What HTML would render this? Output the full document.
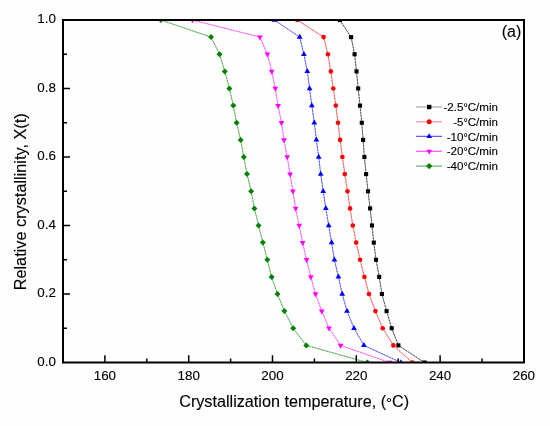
<!DOCTYPE html>
<html><head><meta charset="utf-8"><style>
html,body{margin:0;padding:0;background:#fff;}
svg{display:block;font-family:"Liberation Sans",Arial,sans-serif;}
text{stroke:#000;stroke-width:0.12px;}
</style></head><body>
<svg width="550" height="426" viewBox="0 0 550 426">
<rect width="550" height="426" fill="#fefefe"/>
<clipPath id="c"><rect x="63" y="20" width="461" height="342.5"/></clipPath>
<g clip-path="url(#c)">
<polyline points="160.9,20.0 211.0,37.1 219.5,54.2 224.8,71.4 229.4,88.5 233.3,105.6 236.6,122.8 240.7,139.9 243.8,157.0 247.0,174.1 251.1,191.2 254.4,208.4 258.5,225.5 262.9,242.6 267.3,259.8 271.6,276.9 277.5,294.0 284.4,311.1 293.2,328.2 306.3,345.4 367.4,362.5" fill="none" stroke="#008000" stroke-width="0.8" stroke-opacity="0.45"/><polyline points="160.9,20.0 211.0,37.1 219.5,54.2 224.8,71.4 229.4,88.5 233.3,105.6 236.6,122.8 240.7,139.9 243.8,157.0 247.0,174.1 251.1,191.2 254.4,208.4 258.5,225.5 262.9,242.6 267.3,259.8 271.6,276.9 277.5,294.0 284.4,311.1 293.2,328.2 306.3,345.4 367.4,362.5" fill="none" stroke="#008000" stroke-width="0.9" stroke-opacity="0.6" stroke-dasharray="1.8 1.2"/>
<polyline points="192.4,20.0 259.9,37.1 267.4,54.2 271.7,71.4 275.3,88.5 278.1,105.6 281.5,122.8 284.0,139.9 287.2,157.0 290.1,174.1 292.9,191.2 295.6,208.4 299.2,225.5 302.6,242.6 306.6,259.8 310.8,276.9 315.5,294.0 321.8,311.1 329.0,328.2 340.6,345.4 389.6,362.5" fill="none" stroke="#ff00ff" stroke-width="0.8" stroke-opacity="0.45"/><polyline points="192.4,20.0 259.9,37.1 267.4,54.2 271.7,71.4 275.3,88.5 278.1,105.6 281.5,122.8 284.0,139.9 287.2,157.0 290.1,174.1 292.9,191.2 295.6,208.4 299.2,225.5 302.6,242.6 306.6,259.8 310.8,276.9 315.5,294.0 321.8,311.1 329.0,328.2 340.6,345.4 389.6,362.5" fill="none" stroke="#ff00ff" stroke-width="0.9" stroke-opacity="0.6" stroke-dasharray="1.8 1.2"/>
<polyline points="274.4,20.0 299.7,37.1 303.9,54.2 307.3,71.4 309.6,88.5 311.8,105.6 314.3,122.8 316.4,139.9 318.7,157.0 320.7,174.1 323.2,191.2 325.8,208.4 328.7,225.5 331.6,242.6 334.4,259.8 338.4,276.9 342.2,294.0 347.0,311.1 354.0,328.2 363.9,345.4 400.9,362.5" fill="none" stroke="#0000ff" stroke-width="0.8" stroke-opacity="0.45"/><polyline points="274.4,20.0 299.7,37.1 303.9,54.2 307.3,71.4 309.6,88.5 311.8,105.6 314.3,122.8 316.4,139.9 318.7,157.0 320.7,174.1 323.2,191.2 325.8,208.4 328.7,225.5 331.6,242.6 334.4,259.8 338.4,276.9 342.2,294.0 347.0,311.1 354.0,328.2 363.9,345.4 400.9,362.5" fill="none" stroke="#0000ff" stroke-width="0.9" stroke-opacity="0.6" stroke-dasharray="1.8 1.2"/>
<polyline points="297.3,20.0 323.6,37.1 327.9,54.2 330.8,71.4 333.3,88.5 335.8,105.6 338.0,122.8 340.1,139.9 342.4,157.0 344.8,174.1 347.5,191.2 350.1,208.4 352.8,225.5 356.2,242.6 360.1,259.8 364.4,276.9 369.0,294.0 375.4,311.1 382.7,328.2 393.4,345.4 412.3,362.5" fill="none" stroke="#ff0000" stroke-width="0.8" stroke-opacity="0.45"/><polyline points="297.3,20.0 323.6,37.1 327.9,54.2 330.8,71.4 333.3,88.5 335.8,105.6 338.0,122.8 340.1,139.9 342.4,157.0 344.8,174.1 347.5,191.2 350.1,208.4 352.8,225.5 356.2,242.6 360.1,259.8 364.4,276.9 369.0,294.0 375.4,311.1 382.7,328.2 393.4,345.4 412.3,362.5" fill="none" stroke="#ff0000" stroke-width="0.9" stroke-opacity="0.6" stroke-dasharray="1.8 1.2"/>
<polyline points="339.8,20.0 351.1,37.1 354.6,54.2 356.5,71.4 358.2,88.5 360.0,105.6 361.8,122.8 363.1,139.9 364.4,157.0 366.1,174.1 368.0,191.2 370.1,208.4 372.0,225.5 373.8,242.6 376.0,259.8 379.2,276.9 381.9,294.0 386.6,311.1 391.7,328.2 398.4,345.4 424.5,362.5" fill="none" stroke="#000000" stroke-width="0.8" stroke-opacity="0.45"/><polyline points="339.8,20.0 351.1,37.1 354.6,54.2 356.5,71.4 358.2,88.5 360.0,105.6 361.8,122.8 363.1,139.9 364.4,157.0 366.1,174.1 368.0,191.2 370.1,208.4 372.0,225.5 373.8,242.6 376.0,259.8 379.2,276.9 381.9,294.0 386.6,311.1 391.7,328.2 398.4,345.4 424.5,362.5" fill="none" stroke="#000000" stroke-width="0.9" stroke-opacity="0.6" stroke-dasharray="1.8 1.2"/>
<polygon points="160.90,17.00 163.90,20.00 160.90,23.00 157.90,20.00" fill="#008000"/>
<polygon points="211.00,34.12 214.00,37.12 211.00,40.12 208.00,37.12" fill="#008000"/>
<polygon points="219.50,51.25 222.50,54.25 219.50,57.25 216.50,54.25" fill="#008000"/>
<polygon points="224.80,68.38 227.80,71.38 224.80,74.38 221.80,71.38" fill="#008000"/>
<polygon points="229.40,85.50 232.40,88.50 229.40,91.50 226.40,88.50" fill="#008000"/>
<polygon points="233.30,102.62 236.30,105.62 233.30,108.62 230.30,105.62" fill="#008000"/>
<polygon points="236.60,119.75 239.60,122.75 236.60,125.75 233.60,122.75" fill="#008000"/>
<polygon points="240.70,136.88 243.70,139.88 240.70,142.88 237.70,139.88" fill="#008000"/>
<polygon points="243.80,154.00 246.80,157.00 243.80,160.00 240.80,157.00" fill="#008000"/>
<polygon points="247.00,171.12 250.00,174.12 247.00,177.12 244.00,174.12" fill="#008000"/>
<polygon points="251.10,188.25 254.10,191.25 251.10,194.25 248.10,191.25" fill="#008000"/>
<polygon points="254.40,205.38 257.40,208.38 254.40,211.38 251.40,208.38" fill="#008000"/>
<polygon points="258.50,222.50 261.50,225.50 258.50,228.50 255.50,225.50" fill="#008000"/>
<polygon points="262.90,239.62 265.90,242.62 262.90,245.62 259.90,242.62" fill="#008000"/>
<polygon points="267.30,256.75 270.30,259.75 267.30,262.75 264.30,259.75" fill="#008000"/>
<polygon points="271.60,273.88 274.60,276.88 271.60,279.88 268.60,276.88" fill="#008000"/>
<polygon points="277.50,291.00 280.50,294.00 277.50,297.00 274.50,294.00" fill="#008000"/>
<polygon points="284.40,308.12 287.40,311.12 284.40,314.12 281.40,311.12" fill="#008000"/>
<polygon points="293.20,325.25 296.20,328.25 293.20,331.25 290.20,328.25" fill="#008000"/>
<polygon points="306.30,342.38 309.30,345.38 306.30,348.38 303.30,345.38" fill="#008000"/>
<polygon points="367.40,359.50 370.40,362.50 367.40,365.50 364.40,362.50" fill="#008000"/>
<polygon points="192.40,23.29 189.50,18.36 195.30,18.36" fill="#ff00ff"/>
<polygon points="259.90,40.41 257.00,35.48 262.80,35.48" fill="#ff00ff"/>
<polygon points="267.40,57.54 264.50,52.61 270.30,52.61" fill="#ff00ff"/>
<polygon points="271.70,74.66 268.80,69.73 274.60,69.73" fill="#ff00ff"/>
<polygon points="275.30,91.79 272.40,86.86 278.20,86.86" fill="#ff00ff"/>
<polygon points="278.10,108.91 275.20,103.98 281.00,103.98" fill="#ff00ff"/>
<polygon points="281.50,126.04 278.60,121.11 284.40,121.11" fill="#ff00ff"/>
<polygon points="284.00,143.16 281.10,138.23 286.90,138.23" fill="#ff00ff"/>
<polygon points="287.20,160.29 284.30,155.36 290.10,155.36" fill="#ff00ff"/>
<polygon points="290.10,177.41 287.20,172.48 293.00,172.48" fill="#ff00ff"/>
<polygon points="292.90,194.54 290.00,189.61 295.80,189.61" fill="#ff00ff"/>
<polygon points="295.60,211.66 292.70,206.73 298.50,206.73" fill="#ff00ff"/>
<polygon points="299.20,228.79 296.30,223.86 302.10,223.86" fill="#ff00ff"/>
<polygon points="302.60,245.91 299.70,240.98 305.50,240.98" fill="#ff00ff"/>
<polygon points="306.60,263.04 303.70,258.11 309.50,258.11" fill="#ff00ff"/>
<polygon points="310.80,280.16 307.90,275.23 313.70,275.23" fill="#ff00ff"/>
<polygon points="315.50,297.29 312.60,292.36 318.40,292.36" fill="#ff00ff"/>
<polygon points="321.80,314.41 318.90,309.48 324.70,309.48" fill="#ff00ff"/>
<polygon points="329.00,331.54 326.10,326.61 331.90,326.61" fill="#ff00ff"/>
<polygon points="340.60,348.66 337.70,343.73 343.50,343.73" fill="#ff00ff"/>
<polygon points="389.60,365.79 386.70,360.86 392.50,360.86" fill="#ff00ff"/>
<polygon points="274.40,16.71 271.50,21.64 277.30,21.64" fill="#0000ff"/>
<polygon points="299.70,33.84 296.80,38.77 302.60,38.77" fill="#0000ff"/>
<polygon points="303.90,50.96 301.00,55.89 306.80,55.89" fill="#0000ff"/>
<polygon points="307.30,68.09 304.40,73.02 310.20,73.02" fill="#0000ff"/>
<polygon points="309.60,85.21 306.70,90.14 312.50,90.14" fill="#0000ff"/>
<polygon points="311.80,102.34 308.90,107.27 314.70,107.27" fill="#0000ff"/>
<polygon points="314.30,119.46 311.40,124.39 317.20,124.39" fill="#0000ff"/>
<polygon points="316.40,136.59 313.50,141.52 319.30,141.52" fill="#0000ff"/>
<polygon points="318.70,153.71 315.80,158.64 321.60,158.64" fill="#0000ff"/>
<polygon points="320.70,170.84 317.80,175.77 323.60,175.77" fill="#0000ff"/>
<polygon points="323.20,187.96 320.30,192.89 326.10,192.89" fill="#0000ff"/>
<polygon points="325.80,205.09 322.90,210.02 328.70,210.02" fill="#0000ff"/>
<polygon points="328.70,222.21 325.80,227.14 331.60,227.14" fill="#0000ff"/>
<polygon points="331.60,239.34 328.70,244.27 334.50,244.27" fill="#0000ff"/>
<polygon points="334.40,256.46 331.50,261.39 337.30,261.39" fill="#0000ff"/>
<polygon points="338.40,273.59 335.50,278.52 341.30,278.52" fill="#0000ff"/>
<polygon points="342.20,290.71 339.30,295.64 345.10,295.64" fill="#0000ff"/>
<polygon points="347.00,307.84 344.10,312.77 349.90,312.77" fill="#0000ff"/>
<polygon points="354.00,324.96 351.10,329.89 356.90,329.89" fill="#0000ff"/>
<polygon points="363.90,342.09 361.00,347.02 366.80,347.02" fill="#0000ff"/>
<polygon points="400.90,359.21 398.00,364.14 403.80,364.14" fill="#0000ff"/>
<circle cx="297.30" cy="20.00" r="2.3" fill="#ff0000"/>
<circle cx="323.60" cy="37.12" r="2.3" fill="#ff0000"/>
<circle cx="327.90" cy="54.25" r="2.3" fill="#ff0000"/>
<circle cx="330.80" cy="71.38" r="2.3" fill="#ff0000"/>
<circle cx="333.30" cy="88.50" r="2.3" fill="#ff0000"/>
<circle cx="335.80" cy="105.62" r="2.3" fill="#ff0000"/>
<circle cx="338.00" cy="122.75" r="2.3" fill="#ff0000"/>
<circle cx="340.10" cy="139.88" r="2.3" fill="#ff0000"/>
<circle cx="342.40" cy="157.00" r="2.3" fill="#ff0000"/>
<circle cx="344.80" cy="174.12" r="2.3" fill="#ff0000"/>
<circle cx="347.50" cy="191.25" r="2.3" fill="#ff0000"/>
<circle cx="350.10" cy="208.38" r="2.3" fill="#ff0000"/>
<circle cx="352.80" cy="225.50" r="2.3" fill="#ff0000"/>
<circle cx="356.20" cy="242.62" r="2.3" fill="#ff0000"/>
<circle cx="360.10" cy="259.75" r="2.3" fill="#ff0000"/>
<circle cx="364.40" cy="276.88" r="2.3" fill="#ff0000"/>
<circle cx="369.00" cy="294.00" r="2.3" fill="#ff0000"/>
<circle cx="375.40" cy="311.12" r="2.3" fill="#ff0000"/>
<circle cx="382.70" cy="328.25" r="2.3" fill="#ff0000"/>
<circle cx="393.40" cy="345.38" r="2.3" fill="#ff0000"/>
<circle cx="412.30" cy="362.50" r="2.3" fill="#ff0000"/>
<rect x="337.75" y="17.95" width="4.1" height="4.1" fill="#000000"/>
<rect x="349.05" y="35.08" width="4.1" height="4.1" fill="#000000"/>
<rect x="352.55" y="52.20" width="4.1" height="4.1" fill="#000000"/>
<rect x="354.45" y="69.33" width="4.1" height="4.1" fill="#000000"/>
<rect x="356.15" y="86.45" width="4.1" height="4.1" fill="#000000"/>
<rect x="357.95" y="103.58" width="4.1" height="4.1" fill="#000000"/>
<rect x="359.75" y="120.70" width="4.1" height="4.1" fill="#000000"/>
<rect x="361.05" y="137.83" width="4.1" height="4.1" fill="#000000"/>
<rect x="362.35" y="154.95" width="4.1" height="4.1" fill="#000000"/>
<rect x="364.05" y="172.07" width="4.1" height="4.1" fill="#000000"/>
<rect x="365.95" y="189.20" width="4.1" height="4.1" fill="#000000"/>
<rect x="368.05" y="206.33" width="4.1" height="4.1" fill="#000000"/>
<rect x="369.95" y="223.45" width="4.1" height="4.1" fill="#000000"/>
<rect x="371.75" y="240.57" width="4.1" height="4.1" fill="#000000"/>
<rect x="373.95" y="257.70" width="4.1" height="4.1" fill="#000000"/>
<rect x="377.15" y="274.82" width="4.1" height="4.1" fill="#000000"/>
<rect x="379.85" y="291.95" width="4.1" height="4.1" fill="#000000"/>
<rect x="384.55" y="309.07" width="4.1" height="4.1" fill="#000000"/>
<rect x="389.65" y="326.20" width="4.1" height="4.1" fill="#000000"/>
<rect x="396.35" y="343.32" width="4.1" height="4.1" fill="#000000"/>
<rect x="422.45" y="360.45" width="4.1" height="4.1" fill="#000000"/>
</g>
<rect x="63" y="20" width="461" height="342.5" fill="none" stroke="#000" stroke-width="2"/>
<path d="M104.90,362.5V355.3M146.80,362.5V358.5M188.70,362.5V355.3M230.60,362.5V358.5M272.50,362.5V355.3M314.40,362.5V358.5M356.30,362.5V355.3M398.20,362.5V358.5M440.10,362.5V355.3M482.00,362.5V358.5M63,328.25H67.0M63,294.00H70.0M63,259.75H67.0M63,225.50H70.0M63,191.25H67.0M63,157.00H70.0M63,122.75H67.0M63,88.50H70.0M63,54.25H67.0" stroke="#000" stroke-width="1.5" fill="none"/>
<g font-size="13.4" fill="#000"><text x="104.9" y="380.4" text-anchor="middle">160</text><text x="188.7" y="380.4" text-anchor="middle">180</text><text x="272.5" y="380.4" text-anchor="middle">200</text><text x="356.3" y="380.4" text-anchor="middle">220</text><text x="440.1" y="380.4" text-anchor="middle">240</text><text x="523.9" y="380.4" text-anchor="middle">260</text><text x="55.9" y="365.8" text-anchor="end">0.0</text><text x="55.9" y="297.3" text-anchor="end">0.2</text><text x="55.9" y="228.8" text-anchor="end">0.4</text><text x="55.9" y="160.3" text-anchor="end">0.6</text><text x="55.9" y="91.8" text-anchor="end">0.8</text><text x="55.9" y="23.3" text-anchor="end">1.0</text></g>
<text x="294.2" y="407" text-anchor="middle" font-size="16.2" fill="#000">Crystallization temperature, (<tspan dy="1.2" font-size="15">°</tspan><tspan dy="-1.2">C)</tspan></text>
<text transform="translate(25.5,201.8) rotate(-90)" text-anchor="middle" font-size="16.3" fill="#000">Relative crystallinity, X(t)</text>
<text x="521.3" y="36.9" text-anchor="end" font-size="16" fill="#000">(a)</text>
<line x1="416" y1="107.0" x2="442" y2="107.0" stroke="#000000" stroke-width="1" stroke-opacity="0.4"/>
<rect x="427.00" y="104.80" width="4.4" height="4.4" fill="#000000"/>
<text x="498" y="111.1" text-anchor="end" font-size="11.6" fill="#000">-2.5<tspan font-size="10.6">°</tspan>C/min</text>
<line x1="416" y1="121.8" x2="442" y2="121.8" stroke="#ff0000" stroke-width="1" stroke-opacity="0.5"/>
<circle cx="429.20" cy="121.80" r="2.5" fill="#ff0000"/>
<text x="498" y="125.6" text-anchor="end" font-size="11.6" fill="#000">-5<tspan font-size="10.6">°</tspan>C/min</text>
<line x1="416" y1="136.3" x2="442" y2="136.3" stroke="#0000ff" stroke-width="1" stroke-opacity="0.8"/>
<polygon points="429.20,133.13 426.40,137.89 432.00,137.89" fill="#0000ff"/>
<text x="498" y="140.6" text-anchor="end" font-size="11.6" fill="#000">-10<tspan font-size="10.6">°</tspan>C/min</text>
<line x1="416" y1="151.3" x2="442" y2="151.3" stroke="#ff00ff" stroke-width="1" stroke-opacity="0.8"/>
<polygon points="429.20,154.47 426.40,149.71 432.00,149.71" fill="#ff00ff"/>
<text x="498" y="155.4" text-anchor="end" font-size="11.6" fill="#000">-20<tspan font-size="10.6">°</tspan>C/min</text>
<line x1="416" y1="166.1" x2="442" y2="166.1" stroke="#008000" stroke-width="1" stroke-opacity="0.7"/>
<polygon points="429.20,162.90 432.40,166.10 429.20,169.30 426.00,166.10" fill="#008000"/>
<text x="498" y="169.6" text-anchor="end" font-size="11.6" fill="#000">-40<tspan font-size="10.6">°</tspan>C/min</text>
</svg>
</body></html>
